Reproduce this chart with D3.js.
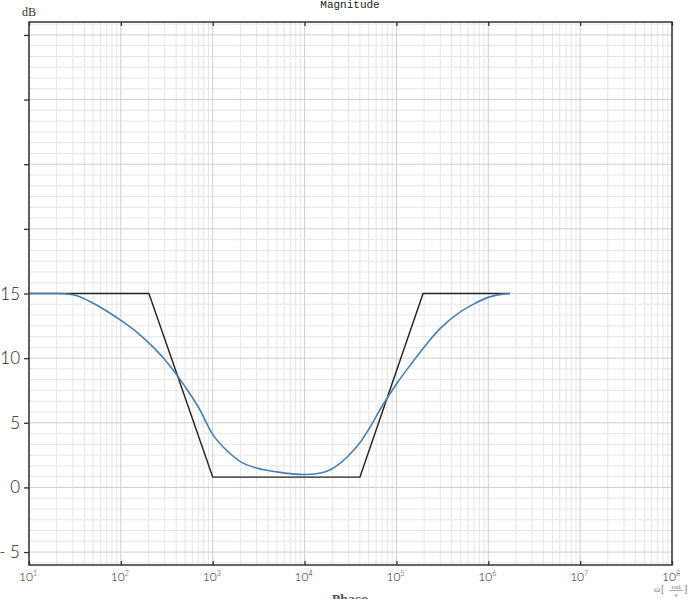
<!DOCTYPE html>
<html>
<head>
<meta charset="utf-8">
<script src="https://cdn.jsdelivr.net/npm/d3@7"></script>
<style>
html,body{margin:0;padding:0;background:#fff;}
svg{display:block;}
</style>
</head>
<body>
<svg id="chart" width="700" height="599"></svg>
<script>
// ---- data ----
const xTickValues = [1e1, 1e2, 1e3, 1e4, 1e5, 1e6, 1e7, 1e8];
const xTickExps = ["1", "2", "3", "4", "5", "6", "7", "8"];
const yTickValues = [-5, 0, 5, 10, 15, 20, 25, 30, 35];
const yTickLabels = ["- 5", "0", "5", "10", "15", "", "", "", ""];

// asymptotic (straight-line) approximation
const asymOmega = [10, 202, 1000, 40100, 195000, 1.72e6];
const asymDb    = [15, 15, 0.8, 0.8, 15, 15];

// actual magnitude curve
const magOmega = [10, 20, 30, 50, 70, 100, 150, 200, 300, 500, 700, 1000, 1500, 2000, 3000, 5000, 10000, 15000, 20000, 30000, 40000, 50000, 70000, 100000, 150000, 200000, 300000, 500000, 700000, 1e6, 1.5e6, 1.72e6];
const magDb    = [15, 15, 14.9, 14.25, 13.65, 12.92, 12.0, 11.2, 9.9, 7.8, 6.2, 4.1, 2.7, 2.0, 1.5, 1.2, 1.0, 1.12, 1.45, 2.45, 3.45, 4.5, 6.3, 8.0, 9.7, 10.85, 12.3, 13.6, 14.2, 14.7, 14.97, 15.0];

// ---- layout ----
const svg = d3.select("#chart");
const L = 29, R = 672, T = 22, B = 565;
const x = d3.scaleLog().domain([1e1, 1e8]).range([L, R]);
const y = d3.scaleLinear().domain([-6, 36]).range([B, T]);

// minor grid
const g = svg.append("g");
const minorX = [];
for (let e = 1; e < 8; e++) for (let k = 2; k <= 9; k++) minorX.push(k * Math.pow(10, e));
g.selectAll(".mx").data(minorX).enter().append("line")
  .attr("x1", d => x(d)).attr("x2", d => x(d)).attr("y1", T).attr("y2", B)
  .attr("stroke", "#e6e6e6").attr("stroke-width", 1);
const minorY = [];
for (let v = -5; v < 36; v += 5) for (let k = 1; k < 6; k++) { const val = v + k * 5 / 6; if (val < 36) minorY.push(val); }
minorY.push(-5 - 5/6);
g.selectAll(".my").data(minorY).enter().append("line")
  .attr("x1", L).attr("x2", R).attr("y1", d => y(d)).attr("y2", d => y(d))
  .attr("stroke", "#e6e6e6").attr("stroke-width", 1);
// major grid
g.selectAll(".Mx").data(xTickValues).enter().append("line")
  .attr("x1", d => x(d)).attr("x2", d => x(d)).attr("y1", T).attr("y2", B)
  .attr("stroke", "#cfcfcf").attr("stroke-width", 1);
g.selectAll(".My").data(yTickValues).enter().append("line")
  .attr("x1", L).attr("x2", R).attr("y1", d => y(d)).attr("y2", d => y(d))
  .attr("stroke", "#cfcfcf").attr("stroke-width", 1);

// lines
const lineStraight = d3.line().x(d => x(d[0])).y(d => y(d[1]));
const lineSmooth = d3.line().x(d => x(d[0])).y(d => y(d[1])).curve(d3.curveMonotoneX);
svg.append("path").datum(asymOmega.map((w, i) => [w, asymDb[i]]))
  .attr("d", lineStraight).attr("fill", "none").attr("stroke", "#222").attr("stroke-width", 1.4);
svg.append("path").datum(magOmega.map((w, i) => [w, magDb[i]]))
  .attr("d", lineSmooth).attr("fill", "none").attr("stroke", "#4a7eb0").attr("stroke-width", 1.6);

// frame
svg.append("rect").attr("x", L).attr("y", T).attr("width", R - L).attr("height", B - T)
  .attr("fill", "none").attr("stroke", "#333").attr("stroke-width", 1.5);

// axes
const xAxis = svg.append("g").attr("transform", `translate(0,${B})`)
  .call(d3.axisBottom(x).tickValues(xTickValues).tickSize(-4).tickFormat(""));
xAxis.select(".domain").remove();
xAxis.selectAll("line").attr("stroke", "#333").attr("stroke-width", 1.3);
const xTop = svg.append("g").attr("transform", `translate(0,${T})`)
  .call(d3.axisTop(x).tickValues(xTickValues).tickSize(-4).tickFormat(""));
xTop.select(".domain").remove();
xTop.selectAll("line").attr("stroke", "#333").attr("stroke-width", 1.3);

const yAxis = svg.append("g").attr("transform", `translate(${L},0)`)
  .call(d3.axisLeft(y).tickValues(yTickValues).tickSize(5).tickFormat(""));
yAxis.select(".domain").remove();
yAxis.selectAll("line").attr("stroke", "#333").attr("stroke-width", 1.3);

// tick labels
const xl = svg.append("g").attr("font-family", "Lato, 'DejaVu Sans', sans-serif").attr("font-weight", 300).attr("fill", "#222");
xTickValues.forEach((v, i) => {
  const t = xl.append("text").attr("x", x(v) - 1).attr("y", 581).attr("text-anchor", "middle").attr("font-size", 12);
  t.append("tspan").text("10");
  t.append("tspan").attr("dy", -5).attr("font-size", 7).text(xTickExps[i]);
});
const yl = svg.append("g").attr("font-family", "Lato, 'DejaVu Sans', sans-serif").attr("font-weight", 300).attr("fill", "#222");
yTickValues.forEach((v, i) => {
  if (!yTickLabels[i]) return;
  yl.append("text").attr("x", 20).attr("y", y(v) + 6).attr("text-anchor", "end").attr("font-size", 17).text(yTickLabels[i]);
});

// titles
svg.append("text").attr("x", 350).attr("y", 8).attr("text-anchor", "middle")
  .attr("font-family", "'Liberation Mono', 'DejaVu Sans Mono', monospace").attr("font-size", 11).attr("fill", "#222").text("Magnitude");
svg.append("text").attr("x", 22).attr("y", 16)
  .attr("font-family", "'Liberation Serif', 'DejaVu Serif', serif").attr("font-size", 12).attr("fill", "#333").text("dB");
svg.append("text").attr("x", 350).attr("y", 603).attr("text-anchor", "middle")
  .attr("font-family", "'DejaVu Serif', serif").attr("font-weight", "bold").attr("font-size", 11).attr("fill", "#555").text("Phase");
// omega unit label
const u = svg.append("g").attr("font-family", "'Liberation Serif', 'DejaVu Serif', serif").attr("fill", "#777");
u.append("text").attr("x", 654).attr("y", 592).attr("font-size", 9).attr("font-style", "italic").text("ω");
u.append("text").attr("x", 661).attr("y", 592).attr("font-size", 10).text("[");
u.append("text").attr("x", 676).attr("y", 589).attr("text-anchor", "middle").attr("font-size", 7).text("rad");
u.append("line").attr("x1", 669).attr("x2", 683).attr("y1", 590.5).attr("y2", 590.5).attr("stroke", "#777").attr("stroke-width", 0.6);
u.append("text").attr("x", 676).attr("y", 597).attr("text-anchor", "middle").attr("font-size", 7).text("s");
u.append("text").attr("x", 684).attr("y", 592).attr("font-size", 10).text("]");
</script>
</body>
</html>
